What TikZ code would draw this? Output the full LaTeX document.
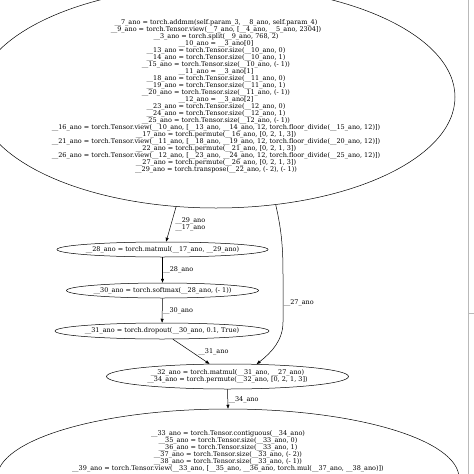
\documentclass[tikz,border=0pt]{standalone}
\usepackage{fontspec}
\setmainfont{DejaVu Serif}
\usetikzlibrary{shapes.geometric,arrows.meta}
\begin{document}
\begin{tikzpicture}[x=1pt,y=-1pt,
  op/.style={draw, ellipse, inner sep=0pt, line width=0.5pt},
  txt/.style={align=center, inner sep=0pt, font=\fontsize{6.5}{7}\selectfont},
  lbl/.style={align=left, inner sep=0pt, font=\fontsize{6.5}{7}\selectfont, anchor=west},
  flow/.style={draw, line width=0.5pt, -{Triangle[length=4pt,width=3pt]}}
]
\useasboundingbox (0,0) rectangle (474,474);
\clip (0,0) rectangle (474,474);
% ellipses
\node[op, minimum width=478pt, minimum height=222pt] (top) at (216,97) {};
\node[op, minimum width=211pt, minimum height=15pt] (n28) at (162.5,249.5) {};
\node[op, minimum width=192pt, minimum height=15pt] (n30) at (162.5,290.5) {};
\node[op, minimum width=214pt, minimum height=16pt] (n31) at (162,331) {};
\node[op, minimum width=242pt, minimum height=25pt] (n32) at (227.5,376.5) {};
\node[op, minimum width=462pt, minimum height=138pt] (bot) at (228,478) {};
% texts
\node[txt] (ttop) at (216,96.7) {\_\_7\_ano = torch.addmm(self.param\_3, \_\_8\_ano, self.param\_4)\\
\_\_9\_ano = torch.Tensor.view(\_\_7\_ano, [\_\_4\_ano, \_\_5\_ano, 2304])\\
\_\_3\_ano = torch.split(\_\_9\_ano, 768, 2)\\
\_\_10\_ano = \_\_3\_ano[0]\\
\_\_13\_ano = torch.Tensor.size(\_\_10\_ano, 0)\\
\_\_14\_ano = torch.Tensor.size(\_\_10\_ano, 1)\\
\_\_15\_ano = torch.Tensor.size(\_\_10\_ano, (- 1))\\
\_\_11\_ano = \_\_3\_ano[1]\\
\_\_18\_ano = torch.Tensor.size(\_\_11\_ano, 0)\\
\_\_19\_ano = torch.Tensor.size(\_\_11\_ano, 1)\\
\_\_20\_ano = torch.Tensor.size(\_\_11\_ano, (- 1))\\
\_\_12\_ano = \_\_3\_ano[2]\\
\_\_23\_ano = torch.Tensor.size(\_\_12\_ano, 0)\\
\_\_24\_ano = torch.Tensor.size(\_\_12\_ano, 1)\\
\_\_25\_ano = torch.Tensor.size(\_\_12\_ano, (- 1))\\
\_\_16\_ano = torch.Tensor.view(\_\_10\_ano, [\_\_13\_ano, \_\_14\_ano, 12, torch.floor\_divide(\_\_15\_ano, 12)])\\
\_\_17\_ano = torch.permute(\_\_16\_ano, [0, 2, 1, 3])\\
\_\_21\_ano = torch.Tensor.view(\_\_11\_ano, [\_\_18\_ano, \_\_19\_ano, 12, torch.floor\_divide(\_\_20\_ano, 12)])\\
\_\_22\_ano = torch.permute(\_\_21\_ano, [0, 2, 1, 3])\\
\_\_26\_ano = torch.Tensor.view(\_\_12\_ano, [\_\_23\_ano, \_\_24\_ano, 12, torch.floor\_divide(\_\_25\_ano, 12)])\\
\_\_27\_ano = torch.permute(\_\_26\_ano, [0, 2, 1, 3])\\
\_\_29\_ano = torch.transpose(\_\_22\_ano, (- 2), (- 1))};
\node[txt] (t28) at (n28) {\_\_28\_ano = torch.matmul(\_\_17\_ano, \_\_29\_ano)};
\node[txt] (t30) at (n30) {\_\_30\_ano = torch.softmax(\_\_28\_ano, (- 1))};
\node[txt] (t31) at (n31) {\_\_31\_ano = torch.dropout(\_\_30\_ano, 0.1, True)};
\node[txt] (t32) at (n32) {\_\_32\_ano = torch.matmul(\_\_31\_ano, \_\_27\_ano)\\
\_\_34\_ano = torch.permute(\_\_32\_ano, [0, 2, 1, 3])};
\node[txt] (tbot) at (228,451.3) {\_\_33\_ano = torch.Tensor.contiguous(\_\_34\_ano)\\
\_\_35\_ano = torch.Tensor.size(\_\_33\_ano, 0)\\
\_\_36\_ano = torch.Tensor.size(\_\_33\_ano, 1)\\
\_\_37\_ano = torch.Tensor.size(\_\_33\_ano, (- 2))\\
\_\_38\_ano = torch.Tensor.size(\_\_33\_ano, (- 1))\\
\_\_39\_ano = torch.Tensor.view(\_\_33\_ano, [\_\_35\_ano, \_\_36\_ano, torch.mul(\_\_37\_ano, \_\_38\_ano)])};
% edges
\path[flow] (top.-110) -- node[lbl, pos=0.5, xshift=4pt] (l1) {\_\_29\_ano\\\_\_17\_ano} (n28.65);
\path[flow] (top.-61) .. controls (282,232) and (283,250) .. (283,275)
  -- node[lbl, pos=0.6, xshift=0.5pt] (l27) {\_\_27\_ano} (283,322)
  .. controls (283,340) and (272,352) .. (n32.23);
\path[flow] (n28) -- node[lbl, xshift=0.5pt] (l28) {\_\_28\_ano} (n30);
\path[flow] (n30) -- node[lbl, xshift=0.5pt] (l30) {\_\_30\_ano} (n31);
\path[flow] (n31.-37) -- node[lbl, xshift=7pt] (l31) {\_\_31\_ano} (n32.145);
\path[flow] (n32.south) -- node[lbl, xshift=0.5pt, yshift=-1pt] (l34) {\_\_34\_ano} (bot.north);
% right margin rule
\coordinate (rtop) at (468,0);
\coordinate (rbot) at (468,474);
\coordinate (rt1) at (468,313.5);
\coordinate (rt2) at (474,313.5);
\draw[gray!55, line width=0.6pt] (rtop) -- (rbot);
\draw[gray!55, line width=0.5pt] (rt1) -- (rt2);
\end{tikzpicture}
\end{document}
